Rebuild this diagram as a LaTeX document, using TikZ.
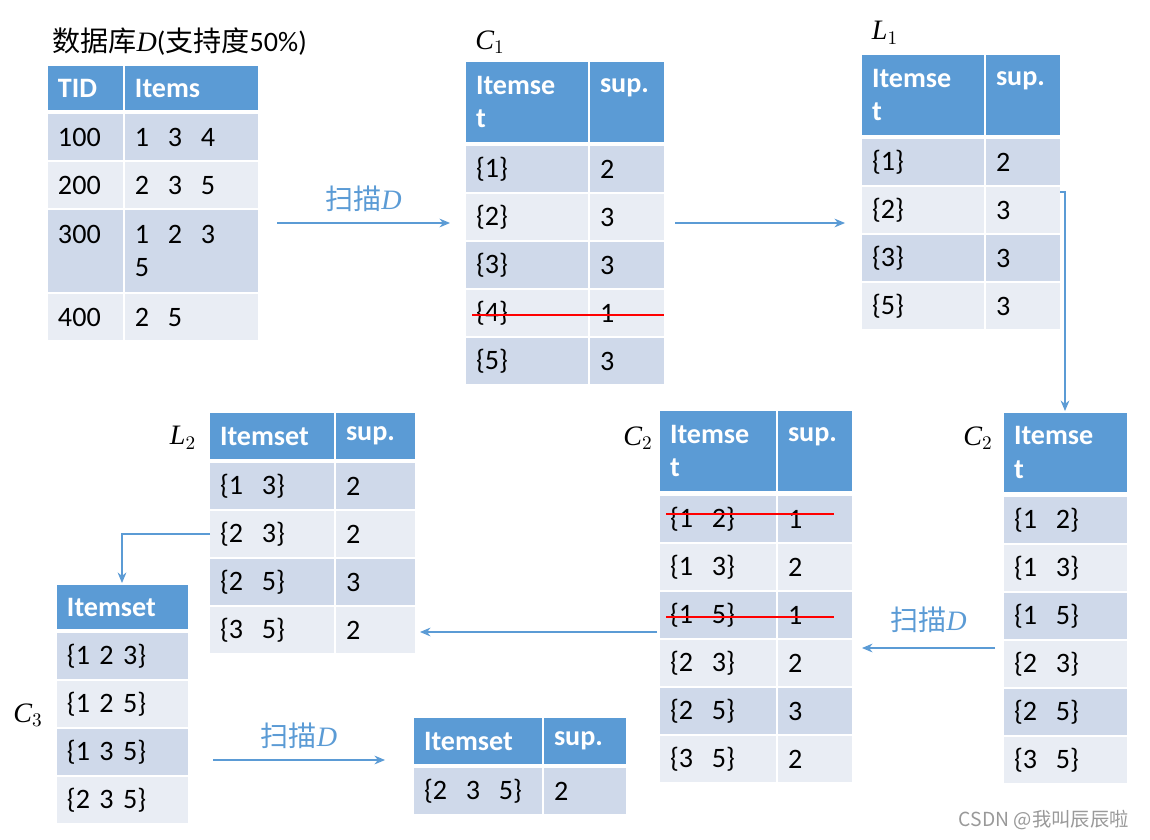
\documentclass[tikz,border=0pt]{standalone}
\usepackage{fontspec}
\setmainfont{Carlito}
\newfontfamily\cjk{Noto Sans CJK SC}
\newfontfamily\ser{Liberation Serif}
\usetikzlibrary{arrows.meta}
\definecolor{hd}{HTML}{5B9BD5}
\definecolor{ra}{HTML}{CFD9EA}
\definecolor{rb}{HTML}{E9EDF4}
\definecolor{ar}{HTML}{5B9BD5}
\tikzset{cellst/.style={inner sep=0pt,outer sep=0pt,font=\fontsize{16}{19}\selectfont},
 hdst/.style={cellst,fill=hd,text=white,font=\fontsize{16}{19}\selectfont\bfseries},
 conn/.style={ar,line width=0.6pt,-{Stealth[length=6pt,width=5pt]}},
 strike/.style={red,line width=0.8pt},
 lab/.style={font=\fontsize{16}{19}\selectfont}}
\newcommand{\cel}[7]{\node[#5,minimum width={(#3-#1)*0.02cm},minimum height={(#4-#2)*0.02cm},text width={(#3-#1)*0.02cm-0.4cm},align=left] (#7) at ({(#1+#3)/2},{(#2+#4)/2}) {#6};}
\newcommand{\ivar}[1]{{\ser\itshape #1}}
\begin{document}
\begin{tikzpicture}[x=0.02cm,y=-0.02cm]
\useasboundingbox (0,0) rectangle (1150,839);
% Table D
\cel{48}{66}{123}{110}{hdst}{TID}{d00}
\cel{125}{66}{258}{110}{hdst}{Items}{d01}
\cel{48}{114}{123}{160}{cellst,fill=ra}{100}{d10}
\cel{125}{114}{258}{160}{cellst,fill=ra}{1\ \ 3\ \ 4}{d11}
\cel{48}{162}{123}{208}{cellst,fill=rb}{200}{d20}
\cel{125}{162}{258}{208}{cellst,fill=rb}{2\ \ 3\ \ 5}{d21}
\cel{48}{210}{123}{292}{cellst,fill=ra}{300\\ \ }{d30}
\cel{125}{210}{258}{292}{cellst,fill=ra}{1\ \ 2\ \ 3\\5}{d31}
\cel{48}{294}{123}{340}{cellst,fill=rb}{400}{d40}
\cel{125}{294}{258}{340}{cellst,fill=rb}{2\ \ 5}{d41}
\node[lab,anchor=west] (title) at (46,42) {{\cjk 数据库}\ivar{D}({\cjk 支持度}50\%)};
% C1
\cel{466}{62}{588}{142}{hdst}{Itemse\\t}{a00}
\cel{590}{62}{664}{142}{hdst}{sup.\\ \ }{a01}
\cel{466}{146}{588}{192}{cellst,fill=ra}{\{1\}}{a10}
\cel{590}{146}{664}{192}{cellst,fill=ra}{2}{a11}
\cel{466}{194}{588}{240}{cellst,fill=rb}{\{2\}}{a20}
\cel{590}{194}{664}{240}{cellst,fill=rb}{3}{a21}
\cel{466}{242}{588}{288}{cellst,fill=ra}{\{3\}}{a30}
\cel{590}{242}{664}{288}{cellst,fill=ra}{3}{a31}
\cel{466}{290}{588}{336}{cellst,fill=rb}{\{4\}}{a40}
\cel{590}{290}{664}{336}{cellst,fill=rb}{1}{a41}
\cel{466}{338}{588}{384}{cellst,fill=ra}{\{5\}}{a50}
\cel{590}{338}{664}{384}{cellst,fill=ra}{3}{a51}
\draw[strike] (472,315) -- (664,315);
\node[lab] (c1) at (490,42) {\ivar{C}$_1$};
% L1
\cel{862}{55}{984}{135}{hdst}{Itemse\\t}{b00}
\cel{986}{55}{1060}{135}{hdst}{sup.\\ \ }{b01}
\cel{862}{139}{984}{185}{cellst,fill=ra}{\{1\}}{b10}
\cel{986}{139}{1060}{185}{cellst,fill=ra}{2}{b11}
\cel{862}{187}{984}{233}{cellst,fill=rb}{\{2\}}{b20}
\cel{986}{187}{1060}{233}{cellst,fill=rb}{3}{b21}
\cel{862}{235}{984}{281}{cellst,fill=ra}{\{3\}}{b30}
\cel{986}{235}{1060}{281}{cellst,fill=ra}{3}{b31}
\cel{862}{283}{984}{329}{cellst,fill=rb}{\{5\}}{b40}
\cel{986}{283}{1060}{329}{cellst,fill=rb}{3}{b41}
\node[lab] (l1) at (885,33) {\ivar{L}$_1$};
% C2 right
\cel{1004}{413}{1127}{492}{hdst}{Itemse\\t}{e00}
\cel{1004}{497}{1127}{543}{cellst,fill=ra}{\{1\ \ 2\}}{e1}
\cel{1004}{545}{1127}{591}{cellst,fill=rb}{\{1\ \ 3\}}{e2}
\cel{1004}{593}{1127}{639}{cellst,fill=ra}{\{1\ \ 5\}}{e3}
\cel{1004}{641}{1127}{687}{cellst,fill=rb}{\{2\ \ 3\}}{e4}
\cel{1004}{689}{1127}{735}{cellst,fill=ra}{\{2\ \ 5\}}{e5}
\cel{1004}{737}{1127}{783}{cellst,fill=rb}{\{3\ \ 5\}}{e6}
\node[lab] (c2r) at (978,438) {\ivar{C}$_2$};
% C2 middle
\cel{660}{411}{776}{491}{hdst}{Itemse\\t}{f00}
\cel{778}{411}{852}{491}{hdst}{sup.\\ \ }{f01}
\cel{660}{496}{776}{542}{cellst,fill=ra}{\{1\ \ 2\}}{f10}
\cel{778}{496}{852}{542}{cellst,fill=ra}{1}{f11}
\cel{660}{544}{776}{590}{cellst,fill=rb}{\{1\ \ 3\}}{f20}
\cel{778}{544}{852}{590}{cellst,fill=rb}{2}{f21}
\cel{660}{592}{776}{638}{cellst,fill=ra}{\{1\ \ 5\}}{f30}
\cel{778}{592}{852}{638}{cellst,fill=ra}{1}{f31}
\cel{660}{640}{776}{686}{cellst,fill=rb}{\{2\ \ 3\}}{f40}
\cel{778}{640}{852}{686}{cellst,fill=rb}{2}{f41}
\cel{660}{688}{776}{734}{cellst,fill=ra}{\{2\ \ 5\}}{f50}
\cel{778}{688}{852}{734}{cellst,fill=ra}{3}{f51}
\cel{660}{736}{776}{782}{cellst,fill=rb}{\{3\ \ 5\}}{f60}
\cel{778}{736}{852}{782}{cellst,fill=rb}{2}{f61}
\draw[strike] (666,514) -- (834,514);
\draw[strike] (666,617) -- (834,617);
\node[lab] (c2m) at (638,438) {\ivar{C}$_2$};
% L2
\cel{210}{413}{334}{459}{hdst}{Itemset}{g00}
\cel{336}{413}{415}{459}{hdst}{sup.}{g01}
\cel{210}{463}{334}{509}{cellst,fill=ra}{\{1\ \ 3\}}{g10}
\cel{336}{463}{415}{509}{cellst,fill=ra}{2}{g11}
\cel{210}{511}{334}{557}{cellst,fill=rb}{\{2\ \ 3\}}{g20}
\cel{336}{511}{415}{557}{cellst,fill=rb}{2}{g21}
\cel{210}{559}{334}{605}{cellst,fill=ra}{\{2\ \ 5\}}{g30}
\cel{336}{559}{415}{605}{cellst,fill=ra}{3}{g31}
\cel{210}{607}{334}{653}{cellst,fill=rb}{\{3\ \ 5\}}{g40}
\cel{336}{607}{415}{653}{cellst,fill=rb}{2}{g41}
\node[lab] (l2) at (183,438) {\ivar{L}$_2$};
% C3
\cel{57}{585}{188}{629}{hdst}{Itemset}{h00}
\cel{57}{633}{188}{679}{cellst,fill=ra}{\{1 2 3\}}{h1}
\cel{57}{681}{188}{727}{cellst,fill=rb}{\{1 2 5\}}{h2}
\cel{57}{729}{188}{775}{cellst,fill=ra}{\{1 3 5\}}{h3}
\cel{57}{777}{188}{823}{cellst,fill=rb}{\{2 3 5\}}{h4}
\node[lab] (c3) at (28,715) {\ivar{C}$_3$};
% final
\cel{414}{718}{542}{764}{hdst}{Itemset}{k00}
\cel{544}{718}{626}{764}{hdst}{sup.}{k01}
\cel{414}{768}{542}{814}{cellst,fill=ra}{\{2\ \ 3\ \ 5\}}{k10}
\cel{544}{768}{626}{814}{cellst,fill=ra}{2}{k11}
% connectors
\coordinate (p1) at (277,223); \coordinate (p2) at (450,223);
\draw[conn] (p1) -- (p2) node[midway,above=3pt,lab] {{\cjk 扫描}\ivar{D}};
\coordinate (p3) at (675,223); \coordinate (p4) at (845,223);
\draw[conn] (p3) -- (p4);
\coordinate (p5) at (1060,192); \coordinate (p6) at (1065,411);
\draw[conn] (p5) -| (p6);
\coordinate (p7) at (995,648); \coordinate (p8) at (862,648);
\draw[conn] (p7) -- (p8) node[midway,above=5pt,lab] {{\cjk 扫描}\ivar{D}};
\coordinate (p9) at (657,632); \coordinate (p10) at (420,632);
\draw[conn] (p9) -- (p10);
\coordinate (p11) at (122,583);
\draw[conn] (g20.west) -| (p11);
\coordinate (p12) at (213,760); \coordinate (p13) at (385,760);
\draw[conn] (p12) -- (p13) node[midway,above=3pt,lab] {{\cjk 扫描}\ivar{D}};
\node[font=\fontsize{11}{13}\selectfont\cjk,text=gray!80,anchor=east] (wm) at (1135,820) {CSDN @我叫辰辰啦};
\end{tikzpicture}
\end{document}
